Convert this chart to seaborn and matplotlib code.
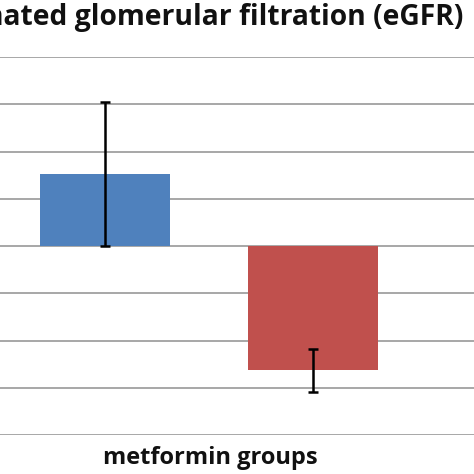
import numpy as np
import pandas as pd
import matplotlib
matplotlib.use("Agg")
import matplotlib.pyplot as plt
import seaborn as sns

# ---------- DATA ----------
groups = ["metformin", "no metformin"]
egfr_change = [1.53, -2.63]
egfr_err = [1.52, 0.46]
bar_colors = ["#4F81BD", "#C0504D"]
y_ticks = [-4, -3, -2, -1, 0, 1, 2, 3, 4]

TITLE = "Estimated glomerular filtration (eGFR)"
XLABEL = "metformin groups"

df = pd.DataFrame({"group": groups, "change": egfr_change})

# ---------- FIGURE ----------
sns.set_style("white")
plt.rcParams["font.family"] = ["Open Sans", "DejaVu Sans"]

W = H = 474
fig = plt.figure(figsize=(W / 100, H / 100), dpi=100)
# plot area: value 4 at y=57px, value -4 at y=435px, spans full width
ax = fig.add_axes([0, 1 - 435 / H, 1, (435 - 57) / H])

sns.barplot(data=df, x="group", y="change", hue="group",
            palette=bar_colors, width=0.625, dodge=False,
            legend=False, saturation=1, ax=ax, zorder=3)
for p in ax.patches:
    p.set_edgecolor("none")

ax.errorbar(range(len(groups)), egfr_change, yerr=egfr_err, fmt="none",
            ecolor="black", elinewidth=1.8, capsize=3.6, capthick=1.8,
            zorder=4)

# x mapping: group 0 centre at 105px, group 1 centre at 313px
ax.set_xlim((0 - 105) / 208, (W - 105) / 208)
ax.set_ylim(-4, 4)
ax.set_yticks(y_ticks)
ax.yaxis.grid(True, color="#a0a0a0", linewidth=1.3, zorder=0)
ax.set_axisbelow(True)
ax.set_xticks([])
ax.set_yticklabels([])
ax.tick_params(left=False, bottom=False)
ax.set_xlabel("")
ax.set_ylabel("")
for s in ax.spines.values():
    s.set_visible(False)

fig.text(463 / W, 1 - 25 / H, TITLE, ha="right", va="baseline",
         fontsize=20.3, fontweight="bold", color="#111111")
fig.text(210 / W, 1 - 464 / H, XLABEL, ha="center", va="baseline",
         fontsize=17, fontweight="bold", color="#111111")

fig.savefig("out.png", dpi=100)
